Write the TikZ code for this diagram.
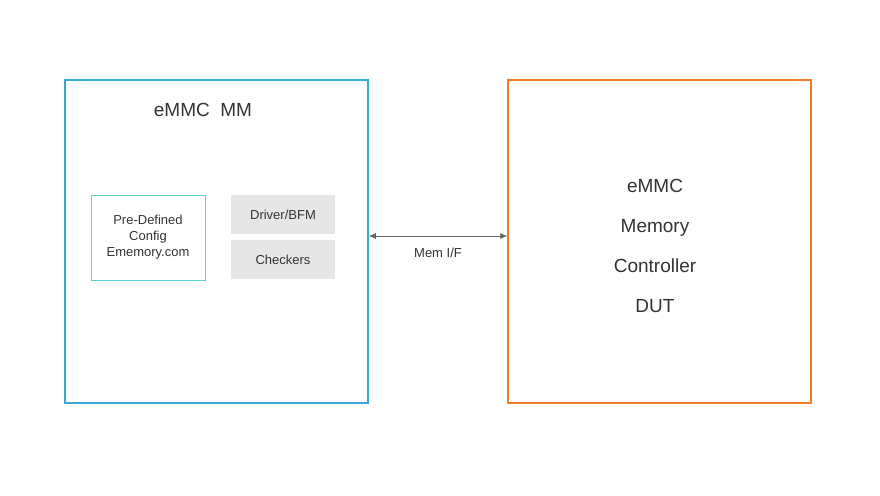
\documentclass[tikz,border=0pt]{standalone}
\usepackage{fontspec}
\setmainfont{Liberation Sans}
\usetikzlibrary{positioning,arrows.meta}
\definecolor{mmblue}{HTML}{3AA6D6}
\definecolor{cfgcyan}{HTML}{5FD3D6}
\definecolor{dutorange}{HTML}{F07A2A}
\definecolor{boxgray}{HTML}{E6E6E6}
\definecolor{txtgray}{HTML}{333333}
\begin{document}
\begin{tikzpicture}[x=1pt,y=-1pt]
	% Styles for the boxes
	\tikzset{
	outer/.style={rectangle, draw, line width=1.5pt, minimum width=303pt, minimum height=323pt},
	cfg/.style={rectangle, draw=cfgcyan, line width=1pt, minimum width=114pt, minimum height=85pt, align=center, font=\fontsize{13}{16}\selectfont, text=txtgray},
	gray/.style={rectangle, fill=boxgray, minimum width=104pt, minimum height=39pt, font=\fontsize{13}{15}\selectfont, text=txtgray}
	}
	\useasboundingbox (0,0) rectangle (880,495);
	% --- Left block ---
	\node[outer, draw=mmblue] (MM) at (216.5, 241.5) {};
	\node[font=\fontsize{19}{22}\selectfont, text=txtgray] (MMT) at (203, 110) {eMMC\ \ MM};
	\node[cfg] (CFG) at (148, 237.5) {Pre-Defined\\Config\\Ememory.com};
	\node[gray] (BFM) at (283, 214.5) {Driver/BFM};
	\node[gray] (CHK) at (283, 259.5) {Checkers};
	% --- Right block ---
	\node[outer, draw=dutorange] (DUT) at (659.5, 241.5) {};
	\node[align=center, font=\fontsize{19}{40}\selectfont, text=txtgray] (DUTT) at (655, 246) {eMMC\\Memory\\Controller\\DUT};
	% --- Interface ---
	\draw[{Latex[length=7pt,width=6pt]}-{Latex[length=7pt,width=6pt]}, gray!80!black, line width=0.8pt] (MM.east |- 0,236) -- (DUT.west |- 0,236) node[midway, below=8pt, font=\fontsize{13}{15}\selectfont, text=txtgray] (IF) {Mem I/F};
\end{tikzpicture}
\end{document}
